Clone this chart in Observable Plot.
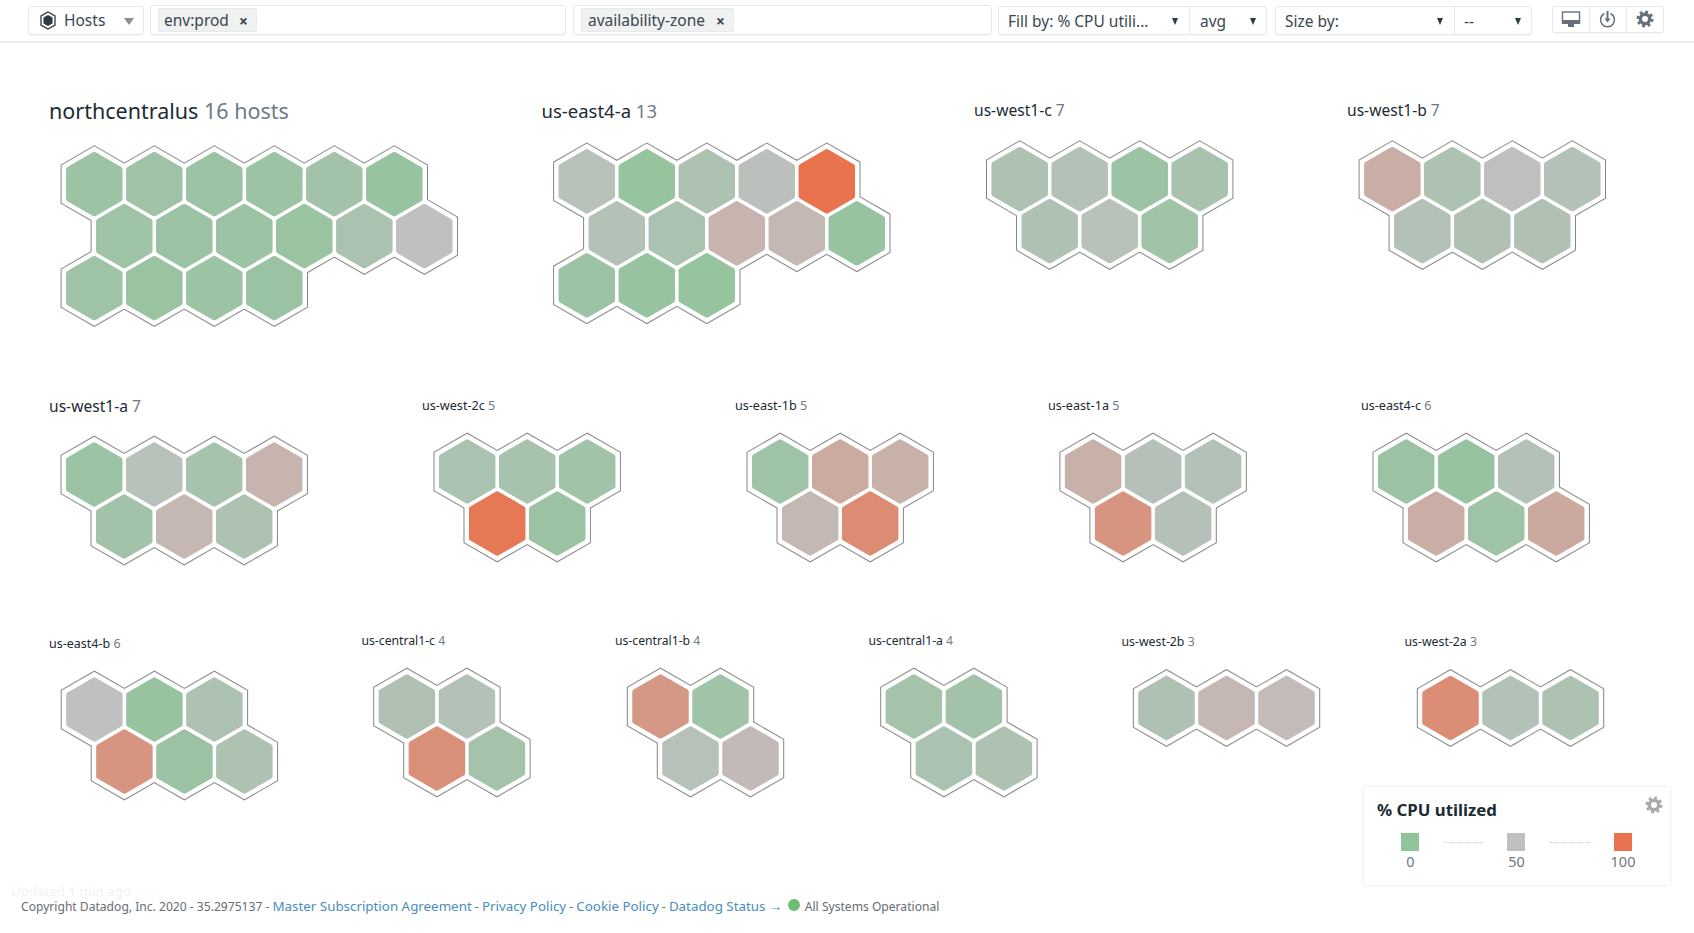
<!DOCTYPE html>
<html>
<head>
<meta charset="utf-8">
<script src="https://cdn.jsdelivr.net/npm/d3@7"></script>
<script src="https://cdn.jsdelivr.net/npm/@observablehq/plot@0.6"></script>
<style>
html,body{margin:0;padding:0;background:#fff;width:1694px;height:933px;overflow:hidden;font-family:"Noto Sans",sans-serif;color:#2c3a44}
#page{position:relative;width:1694px;height:933px}
#chart{position:absolute;left:0;top:43px}
#chart svg{display:block;background:transparent}
.abs{position:absolute;box-sizing:border-box}
.box{border:1px solid #e6e8e9;border-radius:3px;background:#fff;box-shadow:0 1px 1px rgba(0,0,0,.04)}
.tag{background:#f0f1f1;border:1px solid #e8e9ea;border-radius:2px}
.tb{font-size:15.5px;line-height:20px;color:#3a4650;white-space:nowrap}
.sep{width:1px;background:#e4e6e7}
.caret{width:0;height:0;border-left:3.5px solid transparent;border-right:3.5px solid transparent;border-top:7px solid #2c3a44}
#rule{left:0;top:41px;width:1694px;height:2px;background:#eeeeee}
#legend{left:1364px;top:787px;width:306px;height:98px;background:#fff;box-shadow:0 0 3px rgba(0,0,0,.14);border-radius:2px}
.leglab{font-size:14.5px;line-height:18px;color:#70777c;text-align:center;width:50px}
.dots{height:0;border-top:1px dotted #cfcfcf}
#footer{left:21px;top:896px;font-size:12.1px;line-height:20px;color:#666d72;white-space:nowrap}
#footer a{color:#4a8dbd;text-decoration:none;font-size:13.35px}
</style>
</head>
<body>
<div id="page">
  <div id="chart"></div>
  <div class="abs" id="rule"></div>

  <div class="abs box" style="left:28px;top:6px;width:116px;height:29px"></div>
  <svg class="abs" style="left:40px;top:11px" width="16" height="19" viewBox="0 0 16 19"><path d="M8 1 L15 5 L15 14 L8 18 L1 14 L1 5 Z" fill="#fff" stroke="#2c3a44" stroke-width="1.3"/><path d="M8 4 L12.5 6.5 L12.5 12.5 L8 15 L3.5 12.5 L3.5 6.5 Z" fill="#2c3a44"/></svg>
  <div class="abs tb" style="left:64px;top:10px">Hosts</div>
  <div class="abs caret" style="left:124px;top:18px;border-left-width:5px;border-right-width:5px;border-top-color:#8a8f93"></div>

  <div class="abs box" style="left:150px;top:5px;width:416px;height:30px"></div>
  <div class="abs tag" style="left:158px;top:8px;width:99px;height:24px"></div>
  <div class="abs tb" style="left:164px;top:10px">env:prod</div>
  <div class="abs tb" style="left:239px;top:11px;font-weight:700">×</div>

  <div class="abs box" style="left:573px;top:5px;width:419px;height:30px"></div>
  <div class="abs tag" style="left:581px;top:8px;width:153px;height:24px"></div>
  <div class="abs tb" style="left:588px;top:10px">availability-zone</div>
  <div class="abs tb" style="left:716px;top:11px;font-weight:700">×</div>

  <div class="abs box" style="left:998px;top:6px;width:269px;height:29px"></div>
  <div class="abs sep" style="left:1189px;top:7px;height:27px"></div>
  <div class="abs tb" style="left:1008px;top:11px">Fill by: % CPU utili...</div>
  <div class="abs caret" style="left:1172px;top:18px"></div>
  <div class="abs tb" style="left:1200px;top:11px">avg</div>
  <div class="abs caret" style="left:1250px;top:18px"></div>

  <div class="abs box" style="left:1275px;top:6px;width:257px;height:29px"></div>
  <div class="abs sep" style="left:1454px;top:7px;height:27px"></div>
  <div class="abs tb" style="left:1285px;top:11px">Size by:</div>
  <div class="abs caret" style="left:1437px;top:18px"></div>
  <div class="abs tb" style="left:1464px;top:11px">--</div>
  <div class="abs caret" style="left:1515px;top:18px"></div>

  <div class="abs box" style="left:1552px;top:6px;width:112px;height:27px"></div>
  <div class="abs sep" style="left:1589px;top:7px;height:25px"></div>
  <div class="abs sep" style="left:1626px;top:7px;height:25px"></div>
  <svg class="abs" style="left:1561px;top:11px" width="20" height="17" viewBox="0 0 20 17"><rect x="1.5" y="1" width="17" height="11" fill="#fff" stroke="#66707a" stroke-width="1.4"/><rect x="1" y="9" width="18" height="4" fill="#66707a"/><rect x="7" y="13" width="6" height="3" fill="#66707a"/></svg>
  <svg class="abs" style="left:1599px;top:10px" width="17" height="18" viewBox="0 0 17 18"><path d="M5.5 3.5 A7 7 0 1 0 11.5 3.5" fill="none" stroke="#66707a" stroke-width="1.5"/><path d="M8.5 1 V10" stroke="#66707a" stroke-width="2"/><path d="M5.5 8.5 L8.5 12.5 L11.5 8.5 Z" fill="#66707a"/></svg>
  <svg class="abs" style="left:1636px;top:10px" width="18" height="18" viewBox="0 0 18 18"><circle cx="9" cy="9" r="7.2" fill="none" stroke="#66707a" stroke-width="2.6" stroke-dasharray="2.85 2.8"/><circle cx="9" cy="9" r="4.7" fill="none" stroke="#66707a" stroke-width="3.4"/></svg>

  <div class="abs" id="legend"></div>
  <div class="abs" style="left:1377px;top:798px;font-size:16.8px;line-height:24px;font-weight:700;color:#1c2b34">% CPU utilized</div>
  <svg class="abs" style="left:1645px;top:796px" width="18" height="18" viewBox="0 0 18 18"><circle cx="9" cy="9" r="7.2" fill="none" stroke="#a9a9a9" stroke-width="2.6" stroke-dasharray="2.85 2.8"/><circle cx="9" cy="9" r="4.7" fill="none" stroke="#a9a9a9" stroke-width="3.4"/></svg>
  <div class="abs dots" style="left:1444px;top:842px;width:39px"></div>
  <div class="abs dots" style="left:1550px;top:842px;width:40px"></div>
  <div id="legendItems"></div>

  <div class="abs" style="left:11px;top:881px;font-size:13.3px;line-height:20px;color:#f1f2f2">Updated 1 min ago</div>
  <div class="abs" id="footer">Copyright Datadog, Inc. 2020 - 35.2975137 - <a>Master Subscription Agreement</a> - <a>Privacy Policy</a> - <a>Cookie Policy</a> - <a>Datadog Status</a> <a style="font-size:14px">→</a><span style="display:inline-block;width:12px;height:12px;border-radius:50%;background:#6cbf72;vertical-align:0;margin:0 2px 0 5px"></span> <span>All Systems Operational</span></div>
</div>
<script>
// ---------- data ----------
const zoneNames = ["northcentralus","us-east4-a","us-west1-c","us-west1-b","us-west1-a","us-west-2c","us-east-1b","us-east-1a","us-east4-c","us-east4-b","us-central1-c","us-central1-b","us-central1-a","us-west-2b","us-west-2a"];
const zoneCounts = ["16 hosts","13","7","7","7","5","5","5","6","6","4","4","4","3","3"];
const zoneRowLengths = [[6,6,4],[5,5,3],[4,3],[4,3],[4,3],[3,2],[3,2],[3,2],[3,3],[3,3],[2,2],[2,2],[2,2],[3],[3]];
const zoneCpu = [
  [14,17,11,12,19,7, 16,11,12,10,27,50, 15,10,12,9],
  [42,5,30,46,100, 38,28,58,55,7, 12,8,5],
  [30,38,14,25, 32,42,18],
  [62,30,47,36, 38,33,33],
  [14,42,24,58, 19,56,30],
  [27,24,18, 97,11],
  [15,64,60, 55,84],
  [60,39,36, 78,39],
  [11,7,36, 62,16,65],
  [50,7,30, 78,11,30],
  [33,38, 82,22],
  [76,18, 40,54],
  [22,20, 27,31],
  [32,56,53],
  [83,36,31]
];
const legendValues = [0,50,100];
const colorDomain = [0,50,100];
const colorRange = ["#90c49b","#c0c0c0","#e9734f"];

// ---------- layout (page pixels, not data) ----------
const W = 1694, H = 890, TOP = 43, PITCH_X = 60, PITCH_Y = 52;
const zoneHexX = [93.8,586.3,1019.2,1391.8, 93.7,466.7,779.7,1092.6,1405.7, 93.9,406.4,660,913.4,1166,1450];
const zoneHexY = [183.6,180.8,178.6,178.6, 474,471,471,471,471, 709,706,706,706,707.5,707.5];
const zoneLabelX = [48.5,541,973.5,1346.5, 48.5,421.5,734.5,1047.5,1360.5, 48.5,361,614.5,868,1121,1404];
const zoneLabelY = [112,112,110,110, 406,405.5,405.5,405.5,405.5, 643,641,641,641,642,642];
const zoneFont = [21.5,18.5,15.6,15.6, 15.6,12.6,12.6,12.6,12.6, 12.5,12.2,12.2,12.2,12.3,12.3];

// ---------- tables built from the arrays ----------
const hosts = zoneNames.flatMap((zone,i) => {
  let k = 0;
  return zoneRowLengths[i].flatMap((len,row) => d3.range(len).map(col => ({
    zone,
    cpu: zoneCpu[i][k++],
    gx: (zoneHexX[i] + (col + (row % 2 ? 0.5 : 0)) * PITCH_X) / PITCH_X,
    gy: (zoneHexY[i] - TOP + row * PITCH_Y) / PITCH_Y
  })));
});
const ctx = document.createElement("canvas").getContext("2d");
const labels = zoneNames.map((name,i) => {
  ctx.font = `${zoneFont[i]}px "Noto Sans"`;
  return {
    name, count: zoneCounts[i], size: zoneFont[i],
    gx: zoneLabelX[i] / PITCH_X,
    gy: (zoneLabelY[i] - TOP) / PITCH_Y,
    cx: (zoneLabelX[i] + ctx.measureText(name + " ").width) / PITCH_X
  };
});
const textMarks = d3.groups(labels, d => d.size).flatMap(([size, rows]) => [
  Plot.text(rows, {x:"gx", y:"gy", text:"name", textAnchor:"start", lineAnchor:"middle", fontSize:size, fontFamily:"Noto Sans", fill:"#1c2b34"}),
  Plot.text(rows, {x:"cx", y:"gy", text:"count", textAnchor:"start", lineAnchor:"middle", fontSize:size, fontFamily:"Noto Sans", fill:"#6f7a82"})
]);

const chart = Plot.plot({
  width: W, height: H,
  marginTop:0, marginRight:0, marginBottom:0, marginLeft:0,
  x: {domain:[0, W/PITCH_X], range:[0, W], axis:null},
  y: {domain:[0, H/PITCH_Y], range:[0, H], axis:null},
  color: {type:"linear", domain:colorDomain, range:colorRange, interpolate:"rgb"},
  marks: [
    Plot.dot(hosts, {x:"gx", y:"gy", symbol:"hexagon", r:33.7, fill:"#858585"}),
    Plot.dot(hosts, {x:"gx", y:"gy", symbol:"hexagon", r:32.7, fill:"#ffffff"}),
    Plot.dot(hosts, {x:"gx", y:"gy", symbol:"hexagon", r:25.5, fill:"cpu", stroke:"cpu", strokeWidth:5.5, strokeLinejoin:"round"}),
    ...textMarks
  ]
});
document.getElementById("chart").appendChild(chart);

const colorScale = chart.scale("color");
const legendSquareX = [1401,1507,1614];
const legendLabelX = [1410.5,1516.5,1623];
document.getElementById("legendItems").innerHTML = legendValues.map((v,i) =>
  `<div class="abs" style="left:${legendSquareX[i]}px;top:833px;width:18px;height:18px;background:${colorScale.apply(v)}"></div>` +
  `<div class="abs leglab" style="left:${legendLabelX[i]-25}px;top:852px">${v}</div>`
).join("");
</script>
</body>
</html>
